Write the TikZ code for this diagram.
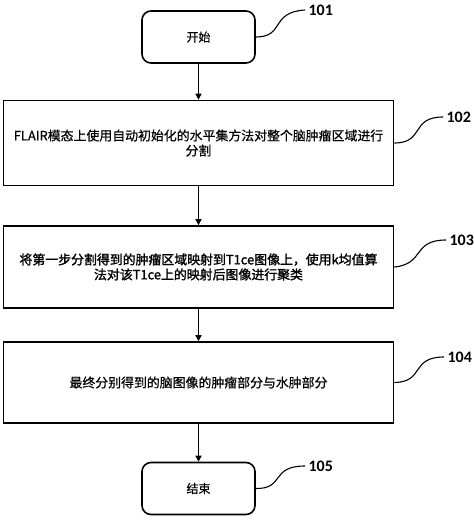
\documentclass[tikz,border=0pt]{standalone}
\usepackage{fontspec}
\setmainfont{Carlito}
\newfontfamily\cjk[FakeBold=0.6]{Noto Sans CJK SC}
\newfontfamily\cjkb[FakeBold=1.6]{Noto Sans CJK SC}
\usetikzlibrary{arrows.meta}
\begin{document}
\begin{tikzpicture}[x=1pt,y=-1pt,
  roundbox/.style={draw,line width=1.6pt,rounded corners=9pt,minimum width=113pt,minimum height=52pt,font=\cjk\fontsize{12}{14}\selectfont},
  stepbox/.style={draw,line width=1.6pt,minimum width=390pt,align=center,font=\cjk\fontsize{12.9}{15}\selectfont},
  flow/.style={line width=1.6pt,-{Triangle[length=6pt,width=6pt]}},
  lbl/.style={font=\bfseries\fontsize{16}{18}\selectfont,anchor=west},
  wave/.style={line width=1.1pt}]
\useasboundingbox (0,0) rectangle (474,520);
\node[roundbox] (n1) at (198.5,37) {开始};
\node[stepbox,minimum height=85pt] (n2) at (198.5,143) {FLAIR模态上使用自动初始化的水平集方法对整个脑肿瘤区域进行\\分割};
\node[stepbox,minimum height=82pt,font=\cjkb\fontsize{12.9}{15}\selectfont] (n3) at (198.5,267) {将第一步分割得到的肿瘤区域映射到T1ce图像上，使用k均值算\\法对该T1ce上的映射后图像进行聚类};
\node[stepbox,minimum height=81pt] (n4) at (198.5,382.5) {最终分别得到的脑图像的肿瘤部分与水肿部分};
\node[roundbox] (n5) at (198.5,488.5) {结束};
\draw[flow] (n1) -- (n2);
\draw[flow] (n2) -- (n3);
\draw[flow] (n3) -- (n4);
\draw[flow] (n4) -- (n5);
\node[lbl] (l1) at (305,10) {101};
\node[lbl] (l2) at (443,117) {102};
\node[lbl] (l3) at (446,240) {103};
\node[lbl] (l4) at (444,357) {104};
\node[lbl] (l5) at (305,466) {105};
\draw[wave] (n1.east) .. controls (285,37) and (270,12) .. (l1.west);
\draw[wave] (n2.east) .. controls (425,143) and (410,117) .. (l2.west);
\draw[wave] (n3.east) .. controls (425,264) and (412,240) .. (l3.west);
\draw[wave] (n4.east) .. controls (425,382) and (410,357) .. (l4.west);
\draw[wave] (n5.east) .. controls (285,489) and (270,466) .. (l5.west);
\end{tikzpicture}
\end{document}
